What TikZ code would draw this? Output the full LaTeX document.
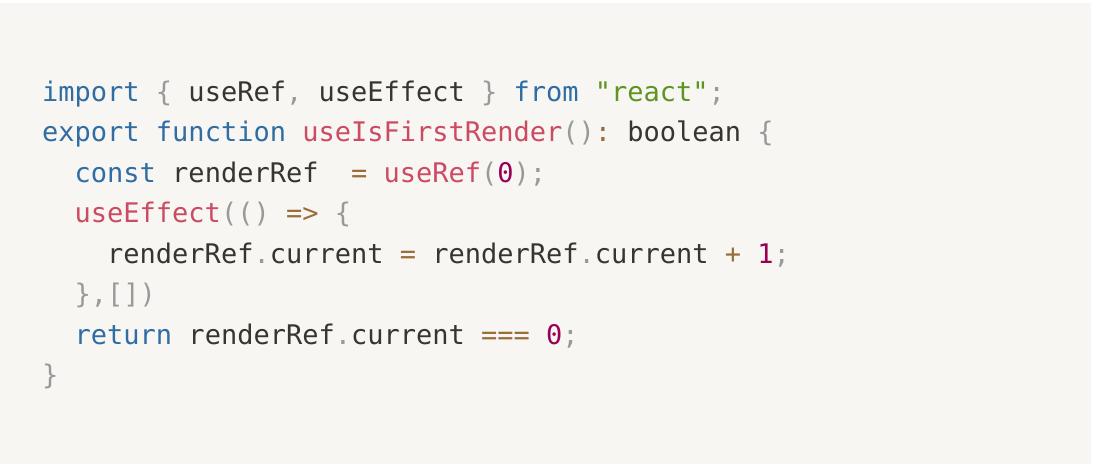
\documentclass[tikz,border=0pt]{standalone}
\usepackage{fontspec}
\setmonofont{DejaVu Sans Mono}
\definecolor{bg}{HTML}{F7F6F3}
\definecolor{kw}{HTML}{2F6DA2}
\definecolor{fn}{HTML}{CC4A62}
\definecolor{st}{HTML}{5E9420}
\definecolor{nu}{HTML}{990055}
\definecolor{op}{HTML}{9A6E3A}
\definecolor{pu}{HTML}{999999}
\definecolor{tx}{HTML}{37352F}
\newcommand{\K}[1]{\textcolor{kw}{#1}}
\newcommand{\F}[1]{\textcolor{fn}{#1}}
\newcommand{\Sg}[1]{\textcolor{st}{#1}}
\newcommand{\N}[1]{\textcolor{nu}{#1}}
\newcommand{\Op}[1]{\textcolor{op}{#1}}
\newcommand{\Pu}[1]{\textcolor{pu}{#1}}
\begin{document}
\begin{tikzpicture}[x=1pt,y=-1pt,
  codeline/.style={anchor=base west,inner sep=0pt,text=tx,font=\ttfamily\fontsize{27}{27}\selectfont}]
\fill[white] (0,0) rectangle (1094,464);
\fill[bg] (0,3) rectangle (1091,464);
\useasboundingbox (0,0) rectangle (1094,464);
\node[codeline] (l1) at (42,101) {\K{import}\ \Pu{\{}\ useRef\Pu{,}\ useEffect\ \Pu{\}}\ \K{from}\ \Sg{"react"}\Pu{;}};
\node[codeline] (l2) at (42,141.5) {\K{export}\ \K{function}\ \F{useIsFirstRender}\Pu{()}\Op{:}\ boolean\ \Pu{\{}};
\node[codeline] (l3) at (42,182) {\ \ \K{const}\ renderRef\ \ \Op{=}\ \F{useRef}\Pu{(}\N{0}\Pu{);}};
\node[codeline] (l4) at (42,222.5) {\ \ \F{useEffect}\Pu{(()}\ \Op{=>}\ \Pu{\{}};
\node[codeline] (l5) at (42,263) {\ \ \ \ renderRef\Pu{.}current\ \Op{=}\ renderRef\Pu{.}current\ \Op{+}\ \N{1}\Pu{;}};
\node[codeline] (l6) at (42,303.5) {\ \ \Pu{\},[])}};
\node[codeline] (l7) at (42,344) {\ \ \K{return}\ renderRef\Pu{.}current\ \Op{===}\ \N{0}\Pu{;}};
\node[codeline] (l8) at (42,384.5) {\Pu{\}}};
\end{tikzpicture}
\end{document}
